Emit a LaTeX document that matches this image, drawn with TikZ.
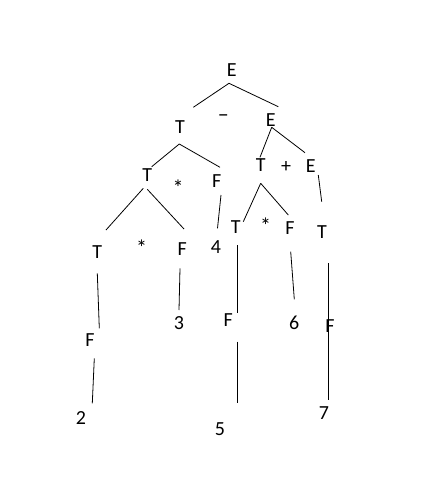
\documentclass[tikz,border=0pt]{standalone}
\usepackage{fontspec}
\setmainfont{Carlito}
\begin{document}
\begin{tikzpicture}[x=1pt,y=-1pt,
  lab/.style={inner sep=0pt,text height=12.6pt,text depth=0pt,font=\fontsize{20}{22}\selectfont},
  op/.style={lab,font=\fontsize{22}{24}\selectfont},
  edge/.style={line width=0.8pt,black}]
\path[use as bounding box,fill=white] (0,0) rectangle (426,493);
% symbols
\node[lab] (E1) at (231.7,70) {E};
\node[op] (minus) at (223.3,115) {–};
\node[lab] (T1) at (180,127) {T};
\node[lab] (E2) at (270.7,120) {E};
\node[lab] (T2) at (147.3,175) {T};
\node[op] (ast1) at (178,189) {*};
\node[lab] (F1) at (216.7,181.5) {F};
\node[lab] (n4) at (216,246.7) {4};
\node[lab] (T3) at (97.3,251.7) {T};
\node[op] (ast2) at (141.7,249.5) {*};
\node[lab] (F2) at (182.3,249.3) {F};
\node[lab] (F3) at (90,340) {F};
\node[lab] (n2) at (81,418.3) {2};
\node[lab] (n3) at (179,323.3) {3};
\node[lab] (T4) at (260.7,165) {T};
\node[lab] (plus) at (286,166.5) {+};
\node[lab] (E3) at (310.7,166) {E};
\node[lab] (T5) at (235.7,227) {T};
\node[op] (ast3) at (265.7,227) {*};
\node[lab] (F4) at (290,228.3) {F};
\node[lab] (F5) at (228.3,320) {F};
\node[lab] (n5) at (220,429.3) {5};
\node[lab] (n6) at (294.3,322.7) {6};
\node[lab] (T6) at (322,232) {T};
\node[lab] (F6) at (330,326) {F};
\node[lab] (n7) at (324,413.3) {7};
% line end points
\coordinate (e1s) at (229,83.3);
\coordinate (t1n) at (193.3,107.3);
\coordinate (e2n) at (278.3,106.7);
\coordinate (t1s) at (179.3,144);
\coordinate (t2n) at (151.7,166.7);
\coordinate (f1n) at (220,167.3);
\coordinate (f1s) at (221,195);
\coordinate (n4n) at (217.5,228.3);
\coordinate (t2sl) at (143.3,188.3);
\coordinate (t3n) at (106,230);
\coordinate (t2sr) at (147.3,189.3);
\coordinate (f2n) at (184,229);
\coordinate (t3s) at (97.3,273.3);
\coordinate (f3n) at (99.3,328.3);
\coordinate (f3s) at (94.3,358.3);
\coordinate (n2n) at (92.3,403.3);
\coordinate (f2s) at (180,268.3);
\coordinate (n3n) at (179,310);
\coordinate (e2s) at (271.7,127.3);
\coordinate (t4n) at (260,157.3);
\coordinate (e3n) at (305,152.7);
\coordinate (t4s) at (260.7,183.3);
\coordinate (t5n) at (243.3,221.7);
\coordinate (f4n) at (288.3,215);
\coordinate (f4s) at (290.7,251.7);
\coordinate (n6n) at (294.3,299.3);
\coordinate (e3s) at (318.3,175);
\coordinate (t6n) at (321.7,201.7);
\coordinate (t6s) at (328.3,263.3);
\coordinate (n7n) at (328.3,400);
\coordinate (t5s) at (237.3,245);
\coordinate (f5n) at (237.3,313.3);
\coordinate (f5s) at (237.3,341.7);
\coordinate (n5n) at (237.3,403.3);
% edges
\draw[edge] (e1s) -- (t1n);
\draw[edge] (e1s) -- (e2n);
\draw[edge] (t1s) -- (t2n);
\draw[edge] (t1s) -- (f1n);
\draw[edge] (f1s) -- (n4n);
\draw[edge] (t2sl) -- (t3n);
\draw[edge] (t2sr) -- (f2n);
\draw[edge] (t3s) -- (f3n);
\draw[edge] (f3s) -- (n2n);
\draw[edge] (f2s) -- (n3n);
\draw[edge] (e2s) -- (t4n);
\draw[edge] (e2s) -- (e3n);
\draw[edge] (t4s) -- (t5n);
\draw[edge] (t4s) -- (f4n);
\draw[edge] (f4s) -- (n6n);
\draw[edge] (e3s) -- (t6n);
\draw[edge] (t6s) -- (n7n);
\draw[edge] (t5s) -- (f5n);
\draw[edge] (f5s) -- (n5n);
\end{tikzpicture}
\end{document}
